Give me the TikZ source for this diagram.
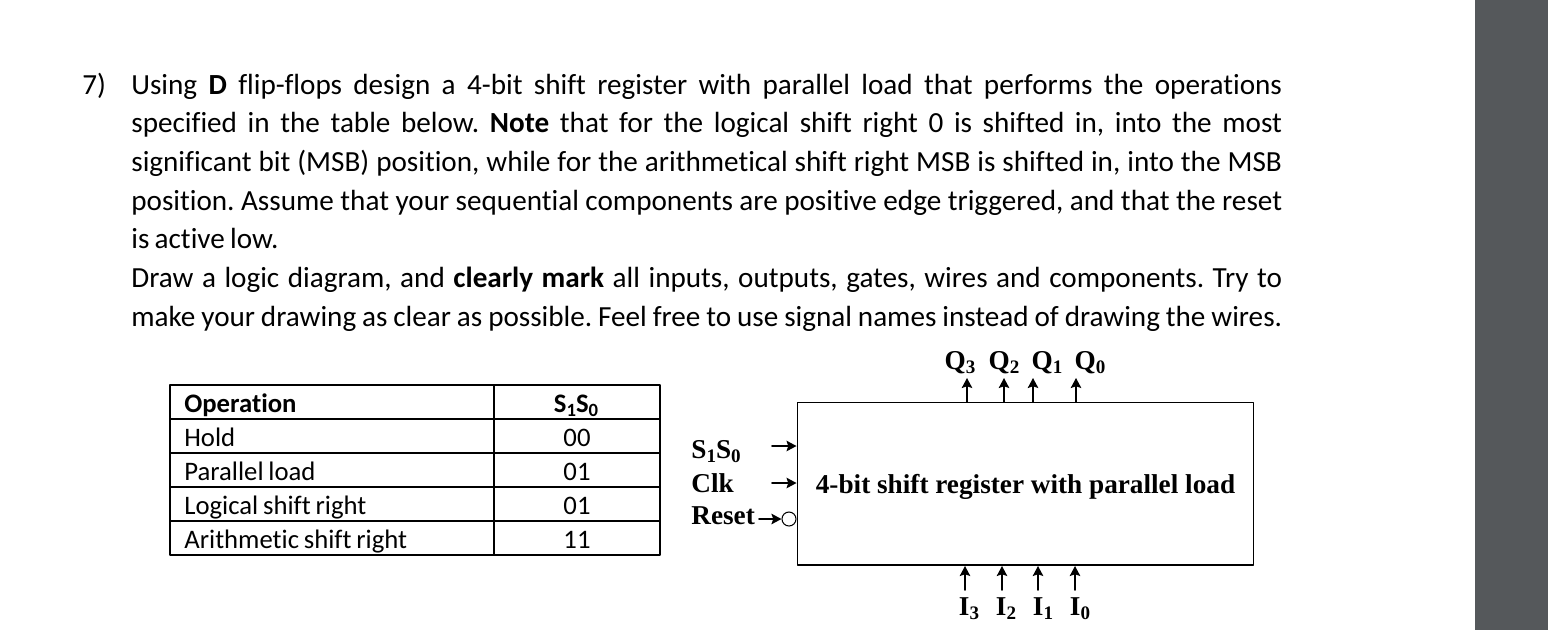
\documentclass[tikz,border=0pt]{standalone}
\usepackage{fontspec}
\setmainfont{Carlito}[WordSpace=0.8,Ligatures=NoCommon]
\newfontfamily\regfont{Liberation Serif}
\usetikzlibrary{arrows.meta}
\newcommand{\lowidx}[1]{\raisebox{-.38ex}{\scalebox{.7}{#1}}}
\definecolor{barcol}{HTML}{55585B}
\tikzset{
  sig/.style={-{Stealth[length=2mm,width=2.1mm,inset=.35mm]},line width=.9pt},
  regtext/.style={font=\regfont\bfseries\fontsize{15.5}{18}\selectfont,inner sep=0pt},
  celltext/.style={font=\fontsize{15.2}{18}\selectfont,inner sep=0pt},
}
\begin{document}
\begin{tikzpicture}[line cap=round,line join=round,x=0.02cm,y=-0.02cm]
\useasboundingbox (0,0) rectangle (1548,630);
\fill[barcol] (1475,0) rectangle (1548,630);
% question text
\node[anchor=base west,inner sep=0pt,font=\fontsize{16.6}{22}\selectfont] (num) at (82,94) {7)};
\node[anchor=north west,inner sep=0pt,text width=23.02cm,align=justify,font=\fontsize{16.6}{22}\selectfont] (quest) at (131,73.5) {\frenchspacing
Using \textbf{D} flip-flops design a 4-bit shift register with parallel load that performs the operations\linebreak
specified in the table below. \textbf{Note} that for the logical shift right 0 is shifted in, into the most\linebreak
significant bit (MSB) position, while for the arithmetical shift right MSB is shifted in, into the MSB\linebreak
position. Assume that your sequential components are positive edge triggered, and that the reset\linebreak
is active low.\par
Draw a logic diagram, and \textbf{clearly mark} all inputs, outputs, gates, wires and components. Try to\linebreak
make your drawing as clear as possible. Feel free to use signal names instead of drawing the wires.\parfillskip=0pt\par};
% table
\draw[line width=1.1pt] (170,385) rectangle (660,555);
\draw[line width=1.1pt] (494,385)--(494,555);
\foreach \y in {419,453,487,521}
  \draw[line width=1.1pt] (170,\y)--(660,\y);
\node[celltext,anchor=base west] (op0) at (184,412) {\textbf{Operation}};
\node[celltext,anchor=base west] (op1) at (184,446) {Hold};
\node[celltext,anchor=base west] (op2) at (184,480) {Parallel load};
\node[celltext,anchor=base west] (op3) at (184,514) {Logical shift right};
\node[celltext,anchor=base west] (op4) at (184,548) {Arithmetic shift right};
\node[celltext,anchor=base] (sel0) at (576,412) {\textbf{S\lowidx{1}S\lowidx{0}}};
\node[celltext,anchor=base] (sel1) at (577,446) {00};
\node[celltext,anchor=base] (sel2) at (577,480) {01};
\node[celltext,anchor=base] (sel3) at (577,514) {01};
\node[celltext,anchor=base] (sel4) at (577,548) {11};
% block
\node[draw,line width=.6pt,minimum width=9.14cm,minimum height=3.26cm,regtext] (reg) at (1025.5,483.5) {};
\node[regtext,anchor=base] (title) at (1025.5,493) {4-bit shift register with parallel load};
\node[regtext,anchor=base west] (ls) at (691,458) {S\lowidx{1}S\lowidx{0}};
\node[regtext,anchor=base west] (lclk) at (691,492) {Clk};
\node[regtext,anchor=base west] (lrst) at (691,524) {Reset};
\coordinate (s1) at (772,446);
\coordinate (s2) at (reg.west |- s1);
\coordinate (c1) at (772,483);
\coordinate (c2) at (reg.west |- c1);
\draw[sig] (s1)--(s2);
\draw[sig] (c1)--(c2);
\node[draw,circle,line width=.6pt,inner sep=0pt,minimum size=.28cm,anchor=east] (inv) at (reg.west |- 0,519) {};
\coordinate (r1) at (759,519);
\draw[sig] (r1)--(inv.west);
% outputs and inputs
\foreach \nm/\i/\lx/\ax in {q3/3/960/967,q2/2/1004/1004,q1/1/1047/1033,q0/0/1090/1076}{
  \node[regtext,anchor=base] (\nm) at (\lx,369) {Q\lowidx{\i}};
  \coordinate (\nm a) at (\ax,402);
  \coordinate (\nm b) at (\ax,378);
  \draw[sig] (\nm a)--(\nm b);
}
\foreach \nm/\i/\lx/\ax in {i3/3/969/965,i2/2/1006/1002,i1/1/1043/1038,i0/0/1080/1075}{
  \node[regtext,anchor=base] (\nm) at (\lx,615) {I\lowidx{\i}};
  \coordinate (\nm a) at (\ax,590);
  \coordinate (\nm b) at (\ax,566);
  \draw[sig] (\nm a)--(\nm b);
}
\end{tikzpicture}
\end{document}
